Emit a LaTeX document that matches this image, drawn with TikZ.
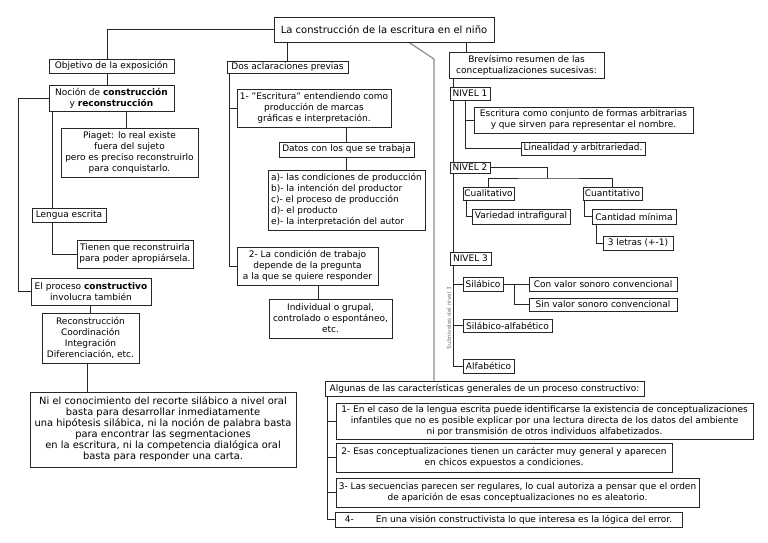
\documentclass[tikz,border=0pt]{standalone}
\usepackage{fontspec}
\setmainfont{DejaVu Sans}
\usetikzlibrary{backgrounds}
\tikzset{
  bx/.style={draw=black!85, line width=0.8pt, fill=white, inner sep=0pt, align=center, font=\fontsize{9}{11}\selectfont},
  conn/.style={draw=black!85, line width=0.8pt},
  greyline/.style={draw=black!45, line width=1.2pt},
}
\newcommand\Bx[7][]{\node[bx,minimum width={(#5-#3)*1pt},minimum height={(#6-#4)*1pt},#1] (#2) at ({(#3+#5)/2},{(#4+#6)/2}) {#7};}
\begin{document}
\begin{tikzpicture}[x=1pt,y=-1pt]
\begin{scope}[on background layer]
\fill[white] (0,0) rectangle (768,543);
\end{scope}
\useasboundingbox (0,0) rectangle (768,543);
% left column
\Bx[font=\fontsize{10}{12}\selectfont]{title}{274}{17}{494}{42}{La construcción de la escritura en el niño}
\Bx{obj}{49}{59}{174}{73}{Objetivo de la exposición}
\Bx{noc}{49}{85}{174}{111}{Noción de \textbf{construcción}\\y \textbf{reconstrucción}}
\Bx{piag}{61}{128}{198}{177}{Piaget: lo real existe\\fuera del sujeto\\pero es preciso reconstruirlo\\para conquistarlo.}
\Bx{leng}{32}{208}{106}{222}{Lengua escrita}
\Bx{tien}{77}{240}{193}{268}{Tienen que reconstruirla\\para poder apropiársela.}
\Bx{proc}{31}{278}{151}{305}{El proceso \textbf{constructivo}\\involucra también}
\Bx{reco}{42}{313}{139}{363}{Reconstrucción\\Coordinación\\Integración\\Diferenciación, etc.}
\Bx[font=\fontsize{9.9}{11}\selectfont]{ni}{30}{392}{296}{467}{Ni el conocimiento del recorte silábico a nivel oral\\basta para desarrollar inmediatamente\\una hipótesis silábica, ni la noción de palabra basta\\para encontrar las segmentaciones\\en la escritura, ni la competencia dialógica oral\\basta para responder una carta.}
% middle column
\Bx{dos}{227}{61}{348}{73}{Dos aclaraciones previas}
\Bx{one}{237}{89}{391}{127}{1- "Escritura" entendiendo como\\producción de marcas\\gráficas e interpretación.}
\Bx{datos}{279}{142}{414}{157}{Datos con los que se trabaja}
\Bx[align=left]{list}{268}{170}{425}{230}{a)- las condiciones de producción\\b)- la intención del productor\\c)- el proceso de producción\\d)- el producto\\e)- la interpretación del autor}
\Bx{two}{237}{247}{378}{285}{2- La condición de trabajo\\depende de la pregunta\\a la que se quiere responder}
\Bx{indiv}{269}{299}{392}{338}{Individual o grupal,\\controlado o espontáneo,\\etc.}
% right column
\Bx{brev}{449}{52}{604}{78}{Brevísimo resumen de las\\conceptualizaciones sucesivas:}
\Bx{n1}{450}{87}{490}{100}{NIVEL 1}
\Bx{escr}{474}{107}{693}{133}{Escritura como conjunto de formas arbitrarias\\y que sirven para representar el nombre.}
\Bx{lin}{521}{142}{645}{155}{Linealidad y arbitrariedad.}
\Bx{n2}{450}{162}{490}{173}{NIVEL 2}
\Bx{cual}{463}{187}{514}{200}{Cualitativo}
\Bx{cuan}{583}{187}{642}{200}{Cuantitativo}
\Bx{var}{472}{209}{570}{224}{Variedad intrafigural}
\Bx{cant}{592}{209}{676}{224}{Cantidad mínima}
\Bx{tres}{603}{236}{673}{250}{3 letras (+-1)}
\Bx{n3}{450}{252}{491}{265}{NIVEL 3}
\Bx{sil}{463}{277}{503}{291}{Silábico}
\Bx{con}{529}{277}{677}{291}{Con valor sonoro convencional}
\Bx{sin}{529}{298}{677}{311}{Sin valor sonoro convencional}
\Bx{silalf}{463}{319}{552}{332}{Silábico-alfabético}
\Bx{alf}{463}{359}{514}{373}{Alfabético}
\node[rotate=90, font=\fontsize{5.7}{6}\selectfont, text=black!55] (sub) at (449,318) {Subniveles del nivel 3};
% bottom
\Bx{alg}{325}{381}{644}{396}{Algunas de las características generales de un proceso constructivo:}
\Bx{i1}{336}{403}{753}{439}{1- En el caso de la lengua escrita puede identificarse la existencia de conceptualizaciones\\infantiles que no es posible explicar por una lectura directa de los datos del ambiente\\ni por transmisión de otros individuos alfabetizados.}
\Bx{i2}{336}{443}{672}{472}{2- Esas conceptualizaciones tienen un carácter muy general y aparecen\\en chicos expuestos a condiciones.}
\Bx{i3}{336}{478}{699}{507}{3- Las secuencias parecen ser regulares, lo cual autoriza a pensar que el orden\\de aparición de esas conceptualizaciones no es aleatorio.}
\Bx{i4}{335}{512}{682}{527}{4-\hspace{22pt}En una visión constructivista lo que interesa es la lógica del error.}
\coordinate (gk) at (434,59);
\coordinate (bar) at (547,178);
\begin{scope}[on background layer]
% title links
\draw[conn] (title.west) -| ([xshift=-4.5pt]obj.north);
\draw[conn] (dos.north) -- (dos.north |- title.south);
\draw[conn] ([xshift=-60.5pt]brev.north) -- ([xshift=-60.5pt]brev.north |- title.south);
\draw[greyline] ([xshift=25pt]title.south) -- (gk) -- (gk |- alg.north);
% left
\draw[conn] ([xshift=-4.5pt]obj.south) -- ([xshift=-4.5pt]noc.north);
\draw[conn] ([xshift=-3.5pt]piag.north) -- ([xshift=-3.5pt]piag.north |- noc.south);
\draw[conn] (noc.west) -- ++(-30,0) |- (proc.west);
\draw[conn] ([xshift=4pt]noc.south west) -- ([xshift=4pt]noc.south west |- leng.north);
\draw[conn] ([xshift=21pt]leng.south west) |- (tien.west);
\draw[conn] (reco.north) -- (reco.north |- proc.south);
\draw[conn] ([xshift=-3.5pt]reco.south) -- ([xshift=-3.5pt]reco.south |- ni.north);
% middle
\draw[conn] ([xshift=3pt]dos.south west) |- (two.west);
\draw[conn] (one.west) -- ++(-7,0);
\draw[conn] (datos.north) -- (datos.north |- one.south);
\draw[conn] (datos.south) -- (list.north);
\draw[conn] ([xshift=10.5pt]two.south) -- ([xshift=10.5pt]two.south |- indiv.north);
% right
\draw[conn] ([xshift=5pt]brev.south west) -- ([xshift=5pt]brev.south west |- n3.north);
\draw[conn] ([xshift=16pt]n1.south west) |- (lin.west);
\draw[conn] (escr.west) -- ++(-8,0);
\draw[conn] (n2.east) -| (bar);
\draw[conn] (cual.north) |- (bar) -| (cuan.north);
\draw[conn] ([xshift=4pt]cual.south west) |- (var.west);
\draw[conn] ([xshift=2pt]cuan.south west) |- (cant.west);
\draw[conn] ([xshift=5pt]cant.south west) |- (tres.west);
\draw[conn] ([xshift=4pt]n3.south west) |- (alf.west);
\draw[conn] (sil.west) -- ++(-9,0);
\draw[conn] (silalf.west) -- ++(-9,0);
\draw[conn] (sil.east) -- (con.west);
\draw[conn] ([xshift=11pt]sil.east) |- (sin.west);
% bottom
\draw[conn] ([xshift=3pt]alg.south west) |- (i4.west);
\draw[conn] (i1.west) -- ++(-8,0);
\draw[conn] (i2.west) -- ++(-8,0);
\draw[conn] (i3.west) -- ++(-8,0);
\end{scope}
\end{tikzpicture}
\end{document}
